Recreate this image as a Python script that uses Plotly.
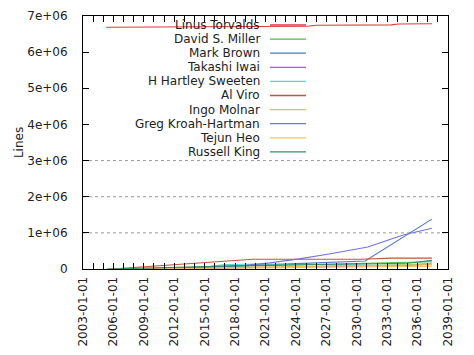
import plotly.graph_objects as go

# ---------------- data ----------------
AUTHORS = ["Linus Torvalds", "David S. Miller", "Mark Brown", "Takashi Iwai",
           "H Hartley Sweeten", "Al Viro", "Ingo Molnar", "Greg Kroah-Hartman",
           "Tejun Heo", "Russell King"]
COLORS = ["#e0393e", "#4cbb4c", "#4a7cc0", "#c04ee0", "#4ed8d8",
          "#c0563a", "#e6c040", "#7272e0", "#f5c060", "#2e9464"]

linus_dates = ["2005-04-16", "2010-01-01", "2015-01-01", "2020-01-01", "2025-02-01",
               "2026-01-01", "2033-06-01", "2034-02-01", "2037-06-01"]
linus_vals = [6.69e6, 6.695e6, 6.70e6, 6.705e6, 6.715e6, 6.745e6, 6.755e6, 6.78e6, 6.785e6]

common_dates = ["2005-06-01", "2008-01-01", "2011-01-01", "2014-01-01", "2017-01-01",
                "2020-01-01", "2023-01-01", "2026-01-01", "2029-01-01", "2032-01-01",
                "2035-01-01", "2037-06-01"]
miller_vals = [0, 0.01e6, 0.03e6, 0.05e6, 0.07e6, 0.09e6, 0.10e6, 0.12e6, 0.14e6, 0.15e6, 0.17e6, 0.20e6]
iwai_vals = [0, 0, 0.01e6, 0.02e6, 0.03e6, 0.04e6, 0.05e6, 0.06e6, 0.06e6, 0.07e6, 0.10e6, 0.14e6]
sweeten_vals = [0, 0, 0, 0.02e6, 0.12e6, 0.14e6, 0.13e6, 0.12e6, 0.11e6, 0.10e6, 0.12e6, 0.16e6]
molnar_vals = [0, 0.01e6, 0.02e6, 0.04e6, 0.05e6, 0.07e6, 0.08e6, 0.09e6, 0.10e6, 0.10e6, 0.11e6, 0.12e6]
heo_vals = [0, 0, 0, 0.01e6, 0.02e6, 0.03e6, 0.04e6, 0.05e6, 0.05e6, 0.06e6, 0.07e6, 0.08e6]
king_vals = [0, 0.02e6, 0.04e6, 0.06e6, 0.08e6, 0.10e6, 0.11e6, 0.12e6, 0.12e6, 0.13e6, 0.16e6, 0.24e6]

brown_dates = ["2010-01-01", "2014-01-01", "2018-01-01", "2024-01-01", "2030-11-01", "2037-06-01"]
brown_vals = [0, 0.03e6, 0.08e6, 0.15e6, 0.22e6, 1.38e6]

viro_dates = ["2005-11-01", "2019-10-01", "2030-06-01", "2033-06-01", "2037-06-01"]
viro_vals = [0, 0.27e6, 0.27e6, 0.30e6, 0.30e6]

greg_dates = ["2008-01-01", "2015-01-01", "2019-01-01", "2021-06-01", "2024-05-01",
              "2027-06-01", "2031-02-01", "2034-08-01", "2037-06-01"]
greg_vals = [0, 0.05e6, 0.10e6, 0.17e6, 0.28e6, 0.42e6, 0.61e6, 0.94e6, 1.13e6]

SERIES = [
    (linus_dates, linus_vals),
    (common_dates, miller_vals),
    (brown_dates, brown_vals),
    (common_dates, iwai_vals),
    (common_dates, sweeten_vals),
    (viro_dates, viro_vals),
    (common_dates, molnar_vals),
    (greg_dates, greg_vals),
    (common_dates, heo_vals),
    (common_dates, king_vals),
]

Y_TICKS = [0, 1e6, 2e6, 3e6, 4e6, 5e6, 6e6, 7e6]
Y_TICK_TEXT = ["0", "1e+06", "2e+06", "3e+06", "4e+06", "5e+06", "6e+06", "7e+06"]
Y_RANGE = [0, 7e6]
GRID_Y = [1e6, 2e6, 3e6]
X_RANGE = ["2003-01-01", "2039-01-01"]

FONT = "DejaVu Sans"
TXT = "#222222"

# page has an 8px body margin -> figure is drawn offset by 8px
OFF = 8
FIG_W, FIG_H = 474 - OFF, 355 - OFF
# plot area in page pixels
plot_l, plot_r, plot_t, plot_b = 83, 448, 16, 269
W = plot_r - plot_l
H = plot_b - plot_t

fig = go.Figure()
for name, color, (d, v) in zip(AUTHORS, COLORS, SERIES):
    fig.add_trace(go.Scatter(x=d, y=v, mode="lines", name=name,
                             line=dict(color=color, width=1.1), showlegend=False))

# helper (invisible) trace so the tick-mark axis y2 is rendered
fig.add_trace(go.Scatter(x=linus_dates, y=linus_vals, yaxis="y2", mode="lines",
                         line=dict(width=0), opacity=0, hoverinfo="skip", showlegend=False))

# dotted grid lines
for gy in GRID_Y:
    fig.add_shape(type="line", xref="paper", yref="y", x0=0, x1=1, y0=gy, y1=gy,
                  line=dict(color="#9a9a9a", width=1, dash="dot"), layer="below")

# custom gnuplot-style key (text right-aligned, sample line on the right)
for i, (name, color) in enumerate(zip(AUTHORS, COLORS)):
    ypix = 25 + 14.1 * i
    yp = (plot_b - ypix) / H
    fig.add_annotation(xref="paper", yref="paper", x=(262 - plot_l) / W, y=yp,
                       text=name, showarrow=False, xanchor="right", yanchor="middle",
                       font=dict(family=FONT, size=12, color=TXT))
    fig.add_shape(type="line", xref="paper", yref="paper",
                  x0=(270 - plot_l) / W, x1=(306 - plot_l) / W, y0=yp, y1=yp,
                  line=dict(color=color, width=1.3))

fig.update_layout(
    width=FIG_W, height=FIG_H,
    margin=dict(l=plot_l - OFF, r=FIG_W - (plot_r - OFF), t=plot_t - OFF,
                b=FIG_H - (plot_b - OFF), autoexpand=False),
    paper_bgcolor="white", plot_bgcolor="white",
    font=dict(family=FONT, size=12, color=TXT),
    showlegend=False,
    yaxis2=dict(overlaying="y", side="left", range=Y_RANGE, tickvals=Y_TICKS,
                showticklabels=False, showgrid=False, zeroline=False,
                showline=True, linecolor="black", linewidth=1, mirror="allticks",
                ticks="inside", ticklen=6, tickcolor="black", automargin=False),
)
fig.update_xaxes(
    type="date", range=X_RANGE, dtick="M36", tick0="2003-01-01",
    tickformat="%Y-%m-%d", tickangle=-90, automargin=False,
    showgrid=False, zeroline=False,
    showline=True, linecolor="black", linewidth=1, mirror="allticks",
    ticks="inside", ticklen=6, tickcolor="black",
    minor=dict(dtick="M12", ticks="inside", ticklen=3, tickcolor="black", showgrid=False),
    tickfont=dict(family=FONT, size=12, color=TXT),
    ticklabelstandoff=2,
)
fig.update_layout(yaxis=dict(
    range=Y_RANGE, tickvals=Y_TICKS, ticktext=Y_TICK_TEXT, automargin=False,
    showgrid=False, zeroline=False,
    showline=True, linecolor="black", linewidth=1, mirror=True,
    ticks="outside", ticklen=12, tickcolor="rgba(0,0,0,0)",
    tickfont=dict(family=FONT, size=12, color=TXT),
    title=dict(text="Lines", font=dict(family=FONT, size=12, color=TXT), standoff=1),
))

fig.write_html("out.html")
